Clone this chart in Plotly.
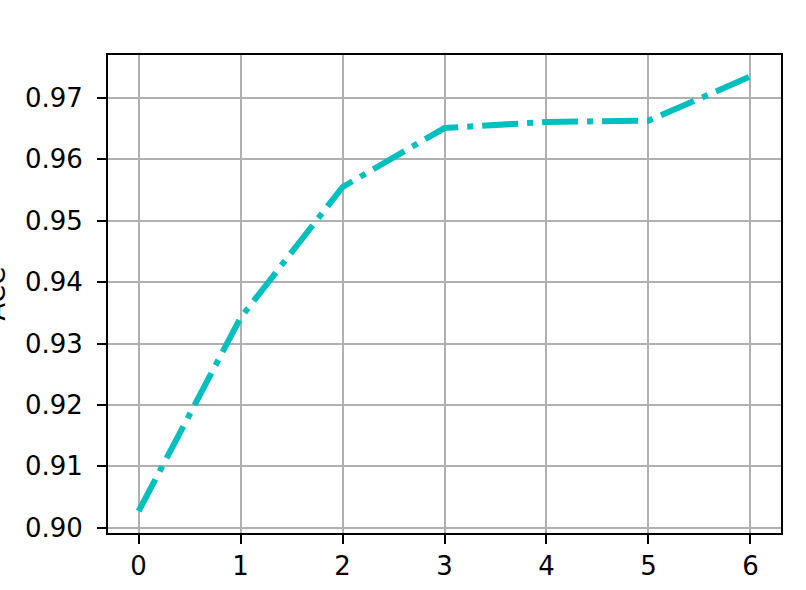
import plotly.graph_objects as go

epochs = [0, 1, 2, 3, 4, 5, 6]
acc = [0.9027, 0.9342, 0.9555, 0.9651, 0.9661, 0.9663, 0.9735]
y_ticks = [0.90, 0.91, 0.92, 0.93, 0.94, 0.95, 0.96, 0.97]
x_ticks = [0, 1, 2, 3, 4, 5, 6]
y_label = "ACC"

FONT = "DejaVu Sans"
W, H = 806, 590
L, R, T, B = 107.5, 24.5, 54.5, 56.5

fig = go.Figure()
fig.add_trace(go.Scatter(
    x=epochs, y=acc, mode="lines",
    line=dict(color="#00BFBF", width=6, dash="36px,9px,6px,9px"),
    showlegend=False,
))

axis_common = dict(
    showline=True, linecolor="black", linewidth=2, mirror=True,
    showgrid=True, gridcolor="#b0b0b0", gridwidth=2,
    zeroline=False,
    ticks="outside", ticklen=9, tickwidth=2, tickcolor="black",
    tickfont=dict(family=FONT, size=26, color="black"),
)

fig.update_layout(
    width=W, height=H,
    margin=dict(l=L, r=R, t=T, b=B, autoexpand=False),
    paper_bgcolor="white", plot_bgcolor="white",
    xaxis=dict(range=[-0.3, 6.3], tickvals=x_ticks, **axis_common),
    yaxis=dict(range=[0.89915, 0.9770], tickvals=y_ticks, tickformat=".2f",
               ticklabelstandoff=9, **axis_common),
    annotations=[dict(
        text=y_label, textangle=-90, showarrow=False,
        xref="paper", yref="paper", x=-(L + 5) / (W - L - R), y=0.5,
        xanchor="center", yanchor="middle",
        font=dict(family=FONT, size=26, color="black"),
    )],
)

fig.write_html("out.html", config={"displayModeBar": False},
               post_script="document.body.style.margin='0';")
